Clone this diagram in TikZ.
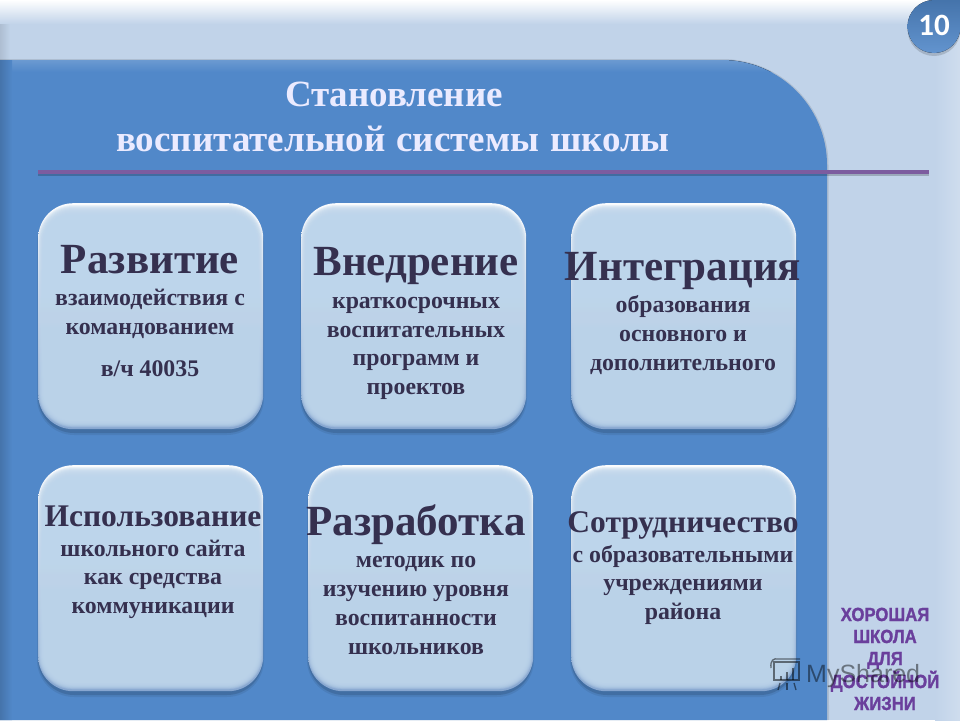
\documentclass[tikz,border=0pt]{standalone}
\usepackage{fontspec}
\usepackage{graphicx}
\setmainfont{Liberation Serif}
\setsansfont{Liberation Sans}
\newfontfamily\badgefont{Carlito}
\newfontfamily\logofont{Liberation Sans}[BoldFeatures={FakeBold=1.5}]
\definecolor{bgblue}{HTML}{C1D3E9}
\definecolor{panelblue}{HTML}{5188C9}
\definecolor{inktext}{HTML}{35304F}
\definecolor{rulepurple}{HTML}{7C5C9F}
\definecolor{logopurple}{HTML}{6A3F9C}
\definecolor{glassmid}{HTML}{BDD5EB}
\definecolor{glasslow}{HTML}{86A6D0}
\newcommand{\fsz}[1]{\fontsize{#1}{#1}\selectfont}
\newcommand{\lgt}[1]{\scalebox{.88}[1]{#1}}
\tikzset{
  big/.style={anchor=base,yshift=-1pt,text=inktext,font=\bfseries\fsz{43},inner sep=0pt},
  mid/.style={anchor=base,yshift=-1pt,text=inktext,font=\bfseries\fsz{31.5},inner sep=0pt},
  small/.style={anchor=base,yshift=-1pt,text=inktext,font=\bfseries\fsz{23.8},inner sep=0pt},
  titletext/.style={anchor=base,text=white!92!blue,font=\bfseries\fsz{37},inner sep=0pt},
  logotext/.style={anchor=base,text=logopurple,font=\logofont\bfseries\fsz{19},inner sep=0pt},
}
% x1 y1 name
\newcommand{\glassbox}[3]{%
  \fill[black,opacity=.07,rounded corners=37pt] (#1-1,#2+2) rectangle (#1+226,#2+232);
  \fill[black,opacity=.12,rounded corners=36pt] (#1,#2+2) rectangle (#1+225,#2+230);
  \node[minimum width=225pt,minimum height=226pt,inner sep=0pt,anchor=north west,rounded corners=35pt,
        top color=white!92!glassmid,bottom color=glasslow] (#3) at (#1,#2) {};
  \foreach \i in {1,2,...,12}{
    \pgfmathsetmacro{\rr}{35-\i*.6}
    \fill[glassmid,opacity=.28,rounded corners=\rr pt]
      (#1+\i*.6,#2+1+\i*1.0) rectangle (#1+225-\i*.6,#2+226-1-\i*.7);
  }
}
\begin{document}
\begin{tikzpicture}[x=1pt,y=-1pt]
\useasboundingbox (0,0) rectangle (960,720);
% background
\fill[bgblue] (0,0) rectangle (960,720);
\fill[top color=white,bottom color=bgblue] (0,0) rectangle (960,24);
\fill[left color=bgblue,right color=white!22!bgblue] (935,24) rectangle (960,720);
\fill[left color=black!10!bgblue,right color=bgblue] (0,24) rectangle (10,60);
% panel
\fill[black,opacity=.10] (0,59) -- (722,59) arc[start angle=-90,end angle=0,radius=106.5] -- (829,720) -- (0,720) -- cycle;
\fill[panelblue] (0,60) -- (722,60) arc[start angle=-90,end angle=0,radius=105] -- (827,720) -- (0,720) -- cycle;
\begin{scope}
\clip (0,60) -- (722,60) arc[start angle=-90,end angle=0,radius=105] -- (827,720) -- (0,720) -- cycle;
\fill[top color=panelblue!85!white,bottom color=panelblue] (0,60) rectangle (830,72);
\fill[left color=panelblue!85!black,right color=panelblue] (0,60) rectangle (12,720);
\end{scope}
% rule
\draw[black,opacity=.2,line width=4pt] (38,174) -- (929,174);
\coordinate (ruleL) at (38,172);
\coordinate (ruleR) at (929,172);
\draw[rulepurple,line width=4pt] (ruleL) -- (ruleR);
% title
\node[titletext] (t1) at (394,106) {Становление};
\node[titletext] (t2) at (393,151) {воспитательной\hspace{1.5pt} системы\hspace{1.5pt} школы};
% boxes
\glassbox{38}{203}{b1}
\glassbox{301}{203}{b2}
\glassbox{571}{203}{b3}
\glassbox{38}{465}{b4}
\glassbox{308}{465}{b5}
\glassbox{571}{465}{b6}
% box 1
\node[big] (a1) at (150,272) {Развитие};
\node[small] (a2) at (150,304) {взаимодействия с};
\node[small] (a3) at (150,333) {командованием};
\node[small] (a4) at (150,375) {в/ч 40035};
% box 2
\node[big] (c1) at (416,274) {Внедрение};
\node[small] (c2) at (416,307) {краткосрочных};
\node[small] (c3) at (416,336) {воспитательных};
\node[small] (c4) at (416,364) {программ и};
\node[small] (c5) at (416,393) {проектов};
% box 3
\node[big] (d1) at (683,279) {Интеграция};
\node[small] (d2) at (683,311) {образования};
\node[small] (d3) at (683,340) {основного и};
\node[small] (d4) at (683,369) {дополнительного};
% box 4
\node[mid] (e1) at (153,525) {Использование};
\node[small] (e2) at (153,555) {школьного сайта};
\node[small] (e3) at (153,583) {как средства};
\node[small] (e4) at (153,612) {коммуникации};
% box 5
\node[big] (f1) at (416,534) {Разработка};
\node[small] (f2) at (416,566) {методик по};
\node[small] (f3) at (416,595) {изучению уровня};
\node[small] (f4) at (416,624) {воспитанности};
\node[small] (f5) at (416,653) {школьников};
% box 6
\node[mid] (g1) at (683,531) {Сотрудничество};
\node[small] (g2) at (683,561) {с образовательными};
\node[small] (g3) at (683,589) {учреждениями};
\node[small] (g4) at (683,618) {района};
% badge
\fill[black,opacity=.15] (960,3) -- (934,3) arc[start angle=-90,end angle=-360,radius=26.5] -- cycle;
\fill[top color=panelblue!85!black,bottom color=panelblue!90!white] (960,0) -- (934,0) arc[start angle=-90,end angle=-360,radius=26.5] -- cycle;
\node[anchor=base,text=white,font=\badgefont\bfseries\fsz{31},inner sep=0pt] (badge) at (934,35) {10};
% logo
\node[logotext] (l1) at (885,621) {\lgt{ХОРОШАЯ}};
\node[logotext] (l2) at (885,643) {\lgt{ШКОЛА}};
\node[logotext] (l3) at (885,665) {\lgt{ДЛЯ}};
\node[logotext] (l4) at (885,688) {\lgt{ДОСТОЙНОЙ}};
\node[logotext] (l5) at (885,710) {\lgt{ЖИЗНИ}};
% watermark
\node[anchor=base west,text=black,opacity=.45,font=\sffamily\fsz{25},inner sep=0pt] (wm) at (806,682) {MyShared};
\begin{scope}[draw=black,opacity=.5,line width=1.3pt]
\draw (774,662) rectangle (799,680);
\draw (771,668) .. controls (770,660) and (774,658) .. (778,659) -- (800,659);
\fill (780,676) rectangle (782,680);
\fill (786,672) rectangle (788,680);
\fill (792,668) rectangle (794,680);
\draw (780,683) -- (778,690);
\draw (787,683) -- (787,690);
\draw (794,683) -- (796,690);
\end{scope}
\end{tikzpicture}
\end{document}
